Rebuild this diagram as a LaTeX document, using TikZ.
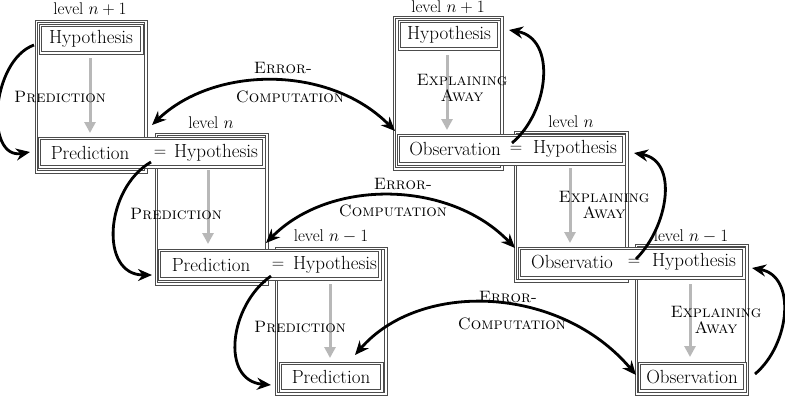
\documentclass[tikz,border=0pt]{standalone}
\usetikzlibrary{arrows.meta}
\begin{document}
\begin{tikzpicture}[x=1pt,y=-1pt,
  dbox/.style={draw=black!70,line width=0.6pt},
  txt/.style={font=\fontsize{19}{21}\selectfont,inner sep=0pt},
  lvl/.style={font=\fontsize{17}{19}\selectfont,inner sep=0pt},
  lab/.style={font=\fontsize{16.5}{19}\selectfont\scshape,inner sep=0pt,align=center},
  gray arrow/.style={draw=black!28,line width=3pt,-{Triangle[length=11pt,width=11pt]}},
  black arrow/.style={draw=black,line width=2.8pt,-{Stealth[length=14pt,width=12pt]}},
  both arrow/.style={draw=black,line width=2.8pt,{Stealth[length=14pt,width=12pt]}-{Stealth[length=14pt,width=12pt]}}]
\useasboundingbox (0,0) rectangle (785,400);
\newcommand\dblrect[4]{\draw[dbox] (#1,#2) rectangle (#3,#4); \draw[dbox] (#1+2.5,#2+2.5) rectangle (#3-2.5,#4-2.5);}
% outer level boxes
\dblrect{35}{20}{147}{173}
\dblrect{155}{133}{268}{285}
\dblrect{275}{247}{387}{395}
\dblrect{393}{16}{503}{170}
\dblrect{514}{131}{628}{282}
\dblrect{635}{244}{748}{395}
\node[lvl] (l1) at (90,9) {level $n+1$};
\node[lvl] (l2) at (211,123) {level $n$};
\node[lvl] (l3) at (331,236) {level $n-1$};
\node[lvl] (l4) at (448,7) {level $n+1$};
\node[lvl] (l5) at (571,122) {level $n$};
\node[lvl] (l6) at (691,236) {level $n-1$};
% inner boxes
\fill[white] (39,24) rectangle (143,54);
\dblrect{39}{24}{143}{54}
\node[txt] (h1) at (91,39) {Hypothesis};
\fill[white] (38,137) rectangle (265,168);
\dblrect{38}{137}{265}{168}
\node[txt] (p1) at (90,153) {Prediction};
\node[txt] (e1) at (160,153) {$=$};
\node[txt] (h2) at (216,153) {Hypothesis};
\fill[white] (158,249) rectangle (381,280);
\dblrect{158}{249}{381}{280}
\node[txt] (p2) at (211,265) {Prediction};
\node[txt] (e2) at (278,265) {$=$};
\node[txt] (h3) at (335,265) {Hypothesis};
\fill[white] (279,362) rectangle (383,392);
\dblrect{279}{362}{383}{392}
\node[txt] (p3) at (331,377) {Prediction};
\fill[white] (398,20) rectangle (500,50);
\dblrect{398}{20}{500}{50}
\node[txt] (h4) at (449,35) {Hypothesis};
\fill[white] (397,134) rectangle (625,165);
\dblrect{397}{134}{625}{165}
\node[txt] (o1) at (455,149) {Observation};
\node[txt] (e3) at (516,149) {$=$};
\node[txt] (h5) at (575,149) {Hypothesis};
\fill[white] (518,247) rectangle (745,279);
\dblrect{518}{247}{745}{279}
\node[txt] (o2) at (572,262) {Observatio};
\node[txt] (e4) at (634,262) {$=$};
\node[txt] (h6) at (694,262) {Hypothesis};
\fill[white] (638,362) rectangle (746,392);
\dblrect{638}{362}{746}{392}
\node[txt] (o3) at (692,377) {Observation};
% gray arrows
\draw[gray arrow] (90,58) -- (90,133);
\draw[gray arrow] (208,170) -- (208,244);
\draw[gray arrow] (330,284) -- (330,358);
\draw[gray arrow] (447,55) -- (447,130);
\draw[gray arrow] (570,168) -- (570,243);
\draw[gray arrow] (690,284) -- (690,357);
% labels
\node[lab] (pl1) at (60,97) {Prediction};
\node[lab] (pl2) at (176,214) {Prediction};
\node[lab] (pl3) at (300,327) {Prediction};
\node[lab] (ea1) at (462,88) {Explaining\\[-3pt]Away};
\node[lab] (ea2) at (604,205) {Explaining\\[-3pt]Away};
\node[lab] (ea3) at (716,320) {Explaining\\[-3pt]Away};
\node[lab] (ec1a) at (283,68) {Error-};
\node[lab] (ec1b) at (290,97) {Computation};
\node[lab] (ec2a) at (403,184) {Error-};
\node[lab] (ec2b) at (393,211) {Computation};
\node[lab] (ec3a) at (508,297) {Error-};
\node[lab] (ec3b) at (512,324) {Computation};
% black arrows
\coordinate (a1s) at (34,45); \coordinate (a1e) at (30,152);
\draw[black arrow] (a1s) to[out=200,in=190,looseness=1.1] (a1e);
\coordinate (a2s) at (151,162); \coordinate (a2e) at (152,275);
\draw[black arrow] (a2s) to[out=210,in=180,looseness=1.2] (a2e);
\coordinate (a3s) at (271,276); \coordinate (a3e) at (271,385);
\draw[black arrow] (a3s) to[out=215,in=175,looseness=1.2] (a3e);
\coordinate (b1s) at (512,143); \coordinate (b1e) at (509,30);
\draw[black arrow] (b1s) to[out=40,in=-10,looseness=1.1] (b1e);
\coordinate (b2s) at (636,259); \coordinate (b2e) at (634,153);
\draw[black arrow] (b2s) to[out=45,in=-10,looseness=1.1] (b2e);
\coordinate (b3s) at (755,374); \coordinate (b3e) at (752,268);
\draw[black arrow] (b3s) to[out=40,in=-10,looseness=1.1] (b3e);
\coordinate (c1s) at (152,125); \coordinate (c1e) at (395,131);
\draw[both arrow] (c1s) .. controls (215,65) and (330,65) .. (c1e);
\coordinate (c2s) at (266,243); \coordinate (c2e) at (515,248);
\draw[both arrow] (c2s) .. controls (330,178) and (450,180) .. (c2e);
\coordinate (c3s) at (355,355); \coordinate (c3e) at (636,375);
\draw[both arrow] (c3s) .. controls (420,280) and (560,285) .. (c3e);
\end{tikzpicture}
\end{document}
